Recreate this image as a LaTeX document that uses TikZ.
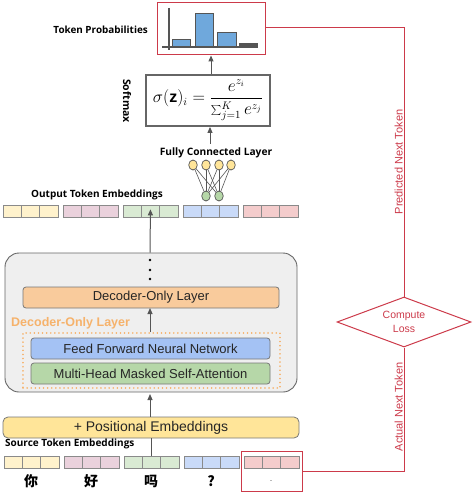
\documentclass[tikz,border=0pt]{standalone}
\usepackage{fontspec}
\setmainfont{Liberation Sans}
\newfontfamily\labfont{Open Sans}
\newfontfamily\cjk{Noto Sans CJK SC}
\usetikzlibrary{arrows.meta,shapes.geometric}
\definecolor{cyel}{HTML}{FFF2CC}
\definecolor{cpink}{HTML}{EAD1DC}
\definecolor{cgrn}{HTML}{D9EAD3}
\definecolor{cblu}{HTML}{C9DAF8}
\definecolor{cred}{HTML}{F4CCCC}
\definecolor{lossred}{HTML}{CC3A4A}
\definecolor{edge}{HTML}{8A8A8A}
\definecolor{dark}{HTML}{555555}
\definecolor{barblue}{HTML}{6FA8DC}
\definecolor{orangebox}{HTML}{F9CB9C}
\definecolor{orangelab}{HTML}{F6B26B}
\definecolor{ffblue}{HTML}{A4C2F4}
\definecolor{mhgreen}{HTML}{B6D7A8}
\definecolor{posyel}{HTML}{FFE599}
\definecolor{contgray}{HTML}{EFEFEF}
\definecolor{fcyel}{HTML}{FFE599}
\tikzset{
  cell/.style={draw=edge, line width=0.7pt, minimum width=18.3pt, minimum height=12pt, inner sep=0pt},
  arr/.style={draw=dark, line width=1pt, -{Triangle[length=6pt,width=5pt]}},
  boldlab/.style={font=\labfont\bfseries\fontsize{10}{12}\selectfont, inner sep=0pt},
  layerbox/.style={draw=dark!80, line width=0.8pt, rounded corners=3pt, inner sep=0pt, font=\fontsize{13}{15}\selectfont, text=black!85},
  redline/.style={draw=lossred, line width=1pt},
  redtext/.style={text=lossred, font=\fontsize{11}{12}\selectfont, inner sep=1pt},
  neuron/.style={ellipse, draw=dark, line width=0.7pt, minimum width=8.5pt, minimum height=10pt, inner sep=0pt},
  fcline/.style={draw=dark, line width=0.6pt},
  bar/.style={draw=dark, line width=1pt, fill=barblue}
}
\begin{document}
\begin{tikzpicture}[x=1pt,y=-1pt]
\useasboundingbox (0,0) rectangle (474,492);

% ---------- token probabilities ----------
\node[draw=lossred, line width=1pt, minimum width=108pt, minimum height=52pt, inner sep=0pt] (prob) at (211,29) {};
\draw[bar] (172,47) rectangle (190,40);
\draw[bar] (195,47) rectangle (213,14);
\draw[bar] (217,47) rectangle (236,33);
\draw[draw=dark, line width=1pt, fill=dark] (239,47) rectangle (257,44);
\draw[dark, line width=1.3pt] (169,8) -- (169,50);
\draw[dark, line width=1.3pt] (162,47) -- (258,47);
\node[boldlab, font=\labfont\bfseries\fontsize{9.9}{11}\selectfont, anchor=east] (problab) at (148,30) {Token Probabilities};

% ---------- softmax ----------
\node[draw=dark!90, line width=1.8pt, fill=white, minimum width=124pt, minimum height=51pt, inner sep=0pt] (soft) at (208,100.5)
  {\fontsize{16}{18}\selectfont$\displaystyle \sigma(\mathbf{z})_i=\frac{e^{z_i}}{\sum_{j=1}^{K}e^{z_j}}$};
\node[boldlab, font=\labfont\bfseries\fontsize{10.5}{12}\selectfont, rotate=-90] (softlab) at (127,101) {Softmax};
\draw[arr] (soft.north -| prob.south) -- (prob.south);

% ---------- fully connected ----------
\node[boldlab, font=\labfont\bfseries\fontsize{10.2}{12}\selectfont] (fclab) at (216,153) {Fully Connected Layer};
\draw[arr] (fclab.north -| 210,0) ++(0,-4) coordinate (fctop) -- (fctop |- soft.south);
\foreach \x [count=\i] in {193,206,219,231} \node[neuron, fill=fcyel] (y\i) at (\x,165) {};
\foreach \x [count=\i] in {206,219} \node[neuron, fill=mhgreen] (g\i) at (\x,196) {};
\foreach \i in {1,...,4} \foreach \j in {1,2} \draw[fcline] (y\i) -- (g\j);

% ---------- output token embeddings ----------
\foreach \c [count=\i from 0] in {cyel,cpink,cgrn,cblu,cred}
  \foreach \k in {0,1,2}
    \node[cell, fill=\c] (o\i-\k) at ({3+60*\i+9.15+18.3*\k},211) {};
\node[boldlab] (outlab) at (97,195) {Output Token Embeddings};

% ---------- decoder container ----------
\node[draw=dark!90, line width=0.9pt, fill=contgray, rounded corners=14pt, minimum width=292pt, minimum height=139pt, inner sep=0pt] (dec) at (151,322.5) {};
\foreach \y in {260,270,279} \fill[black] (150,\y) circle (1.4pt);
\node[layerbox, fill=orangebox, minimum width=256pt, minimum height=21pt] (dlayer) at (151,297.5) {Decoder-Only Layer};
\node[draw=orangelab, line width=1.6pt, dash pattern=on 0.1pt off 4pt, line cap=round, minimum width=257pt, minimum height=55pt, inner sep=0pt] (dotbox) at (151.5,360.5) {};
\node[anchor=west, inner sep=0pt, text=orangelab, font=\bfseries\fontsize{12.5}{14}\selectfont] (dollab) at (11,323) {Decoder-Only Layer};
\node[layerbox, fill=ffblue, minimum width=239pt, minimum height=21pt] (ff) at (150.5,348.5) {Feed Forward Neural Network};
\node[layerbox, fill=mhgreen, minimum width=239pt, minimum height=21pt] (mh) at (150.5,373.5) {Multi-Head Masked Self-Attention};
\draw[arr] (dotbox.north -| 150,0) -- (150,308);
\draw[arr] (dec.north -| 150,0) -- ([yshift=8pt]o2-1.south);

% ---------- positional embeddings ----------
\node[layerbox, fill=posyel, rounded corners=5pt, minimum width=296pt, minimum height=21pt, font=\fontsize{14}{16}\selectfont] (pos) at (151,427.5) {+ Positional Embeddings};
\draw[arr] (pos.north -| 150,0) -- (150,394);
\node[boldlab, anchor=west] (srclab) at (5,444) {Source Token Embeddings};

% ---------- source token embeddings ----------
\foreach \c [count=\i from 0] in {cyel,cpink,cgrn,cblu,cred}
  \foreach \k in {0,1,2}
    \node[cell, fill=\c] (s\i-\k) at ({4+60*\i+9.15+18.3*\k},462) {};
\draw[dark, line width=1pt] (s2-1.north) -- (s2-1.north |- pos.south);
\foreach \t [count=\i from 0] in {你,好,吗,?}
  \node[font=\cjk\bfseries\fontsize{14}{16}\selectfont, inner sep=0pt] (ch\i) at ({31+60*\i},481) {\t};
\node[font=\fontsize{9}{10}\selectfont, text=dark, inner sep=0pt] (ch4) at (271,481) {.};

% ---------- loss ----------
\node[draw=lossred, line width=1pt, minimum width=61pt, minimum height=40pt, inner sep=0pt] (tgt) at (271.5,471) {};
\node[diamond, draw=lossred, line width=1pt, aspect=2.68, minimum width=134pt, minimum height=50pt, inner sep=0pt, align=center, text=lossred, font=\fontsize{10.5}{14}\selectfont] (loss) at (404,322) {Compute\\Loss};
\coordinate (ptop) at (404,28);
\coordinate (abot) at (404,471);
\draw[redline] (prob.east |- ptop) -- (ptop) -- (loss.north);
\draw[redline] (loss.south) -- (abot) -- (tgt.east);
\node[redtext, rotate=90, anchor=south] (predlab) at (404,162) {Predicted Next Token};
\node[redtext, rotate=90, anchor=south] (actlab) at (404,407) {Actual Next Token};
\end{tikzpicture}
\end{document}
